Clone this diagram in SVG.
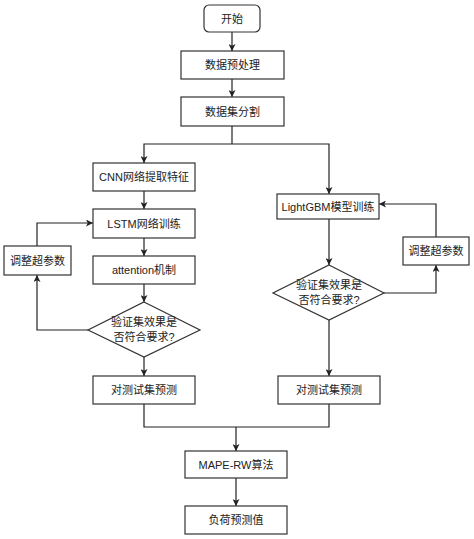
<svg xmlns="http://www.w3.org/2000/svg" width="474" height="539" viewBox="0 0 474 539">
<defs>
<marker id="arr" viewBox="0 0 10 10" refX="10" refY="5" markerWidth="7" markerHeight="7" markerUnits="userSpaceOnUse" orient="auto">
<path d="M0,0 L10,5 L0,10 L2.5,5 Z" fill="#222"/>
</marker>
<style>
.b{fill:#fff;stroke:#333;stroke-width:1.2}
.t{font-family:"Liberation Sans","Noto Sans CJK SC",sans-serif;font-size:11px;fill:#222;text-anchor:middle;dominant-baseline:central}
.c{fill:none;stroke:#222;stroke-width:1.2;marker-end:url(#arr)}
.l{fill:none;stroke:#222;stroke-width:1.2}
</style>
</defs>
<rect width="474" height="539" fill="#fff"/>
<g id="connectors">
<path class="c" d="M232,32 V51"/>
<path class="c" d="M232,79 V97"/>
<path class="l" d="M232,126 V144"/>
<path class="c" d="M232,144 H144 V163"/>
<path class="c" d="M232,144 H329 V194"/>
<path class="c" d="M144,191 V209"/>
<path class="c" d="M144,238 V256"/>
<path class="c" d="M144,284 V302"/>
<path class="c" d="M88,330 H37 V275"/>
<path class="c" d="M37,246 V223 H93"/>
<path class="c" d="M144,357 V376"/>
<path class="c" d="M329,219 V265"/>
<path class="c" d="M384,293 H436 V265"/>
<path class="c" d="M436,237 V204 H379"/>
<path class="c" d="M329,320 V376"/>
<path class="l" d="M144,404 V427 H329 V404"/>
<path class="c" d="M236,427 V451"/>
<path class="c" d="M236,478 V506"/>
</g>
<g id="start"><rect class="b" x="204" y="5" width="56" height="27" rx="5"/><text class="t" x="232" y="18.5">开始</text></g>
<g id="preprocess"><rect class="b" x="181" y="51" width="103" height="28"/><text class="t" x="232.5" y="65">数据预处理</text></g>
<g id="split"><rect class="b" x="181" y="97" width="103" height="29"/><text class="t" x="232.5" y="111.5">数据集分割</text></g>
<g id="cnn"><rect class="b" x="93" y="163" width="102" height="28"/><text class="t" x="144" y="177">CNN网络提取特征</text></g>
<g id="lstm"><rect class="b" x="93" y="209" width="102" height="29"/><text class="t" x="144" y="223.5">LSTM网络训练</text></g>
<g id="attention"><rect class="b" x="93" y="256" width="102" height="28"/><text class="t" x="144" y="270">attention机制</text></g>
<g id="tune-left"><rect class="b" x="4" y="246" width="67" height="29"/><text class="t" x="37.5" y="260.5">调整超参数</text></g>
<g id="check-left"><polygon class="b" points="144,302 200,330 144,357 88,330"/><text class="t" x="144" y="322">验证集效果是</text><text class="t" x="144" y="337">否符合要求?</text></g>
<g id="predict-left"><rect class="b" x="93" y="376" width="102" height="28"/><text class="t" x="144" y="390">对测试集预测</text></g>
<g id="lightgbm"><rect class="b" x="277" y="194" width="102" height="25"/><text class="t" x="328" y="206.5">LightGBM模型训练</text></g>
<g id="tune-right"><rect class="b" x="403" y="237" width="66" height="28"/><text class="t" x="436" y="251">调整超参数</text></g>
<g id="check-right"><polygon class="b" points="329,265 384,293 329,320 273,293"/><text class="t" x="329" y="285">验证集效果是</text><text class="t" x="329" y="300">否符合要求?</text></g>
<g id="predict-right"><rect class="b" x="278" y="376" width="102" height="28"/><text class="t" x="329" y="390">对测试集预测</text></g>
<g id="mape"><rect class="b" x="185" y="451" width="102" height="27"/><text class="t" x="236" y="464.5">MAPE-RW算法</text></g>
<g id="result"><rect class="b" x="185" y="506" width="102" height="28"/><text class="t" x="236" y="520">负荷预测值</text></g>
</svg>
